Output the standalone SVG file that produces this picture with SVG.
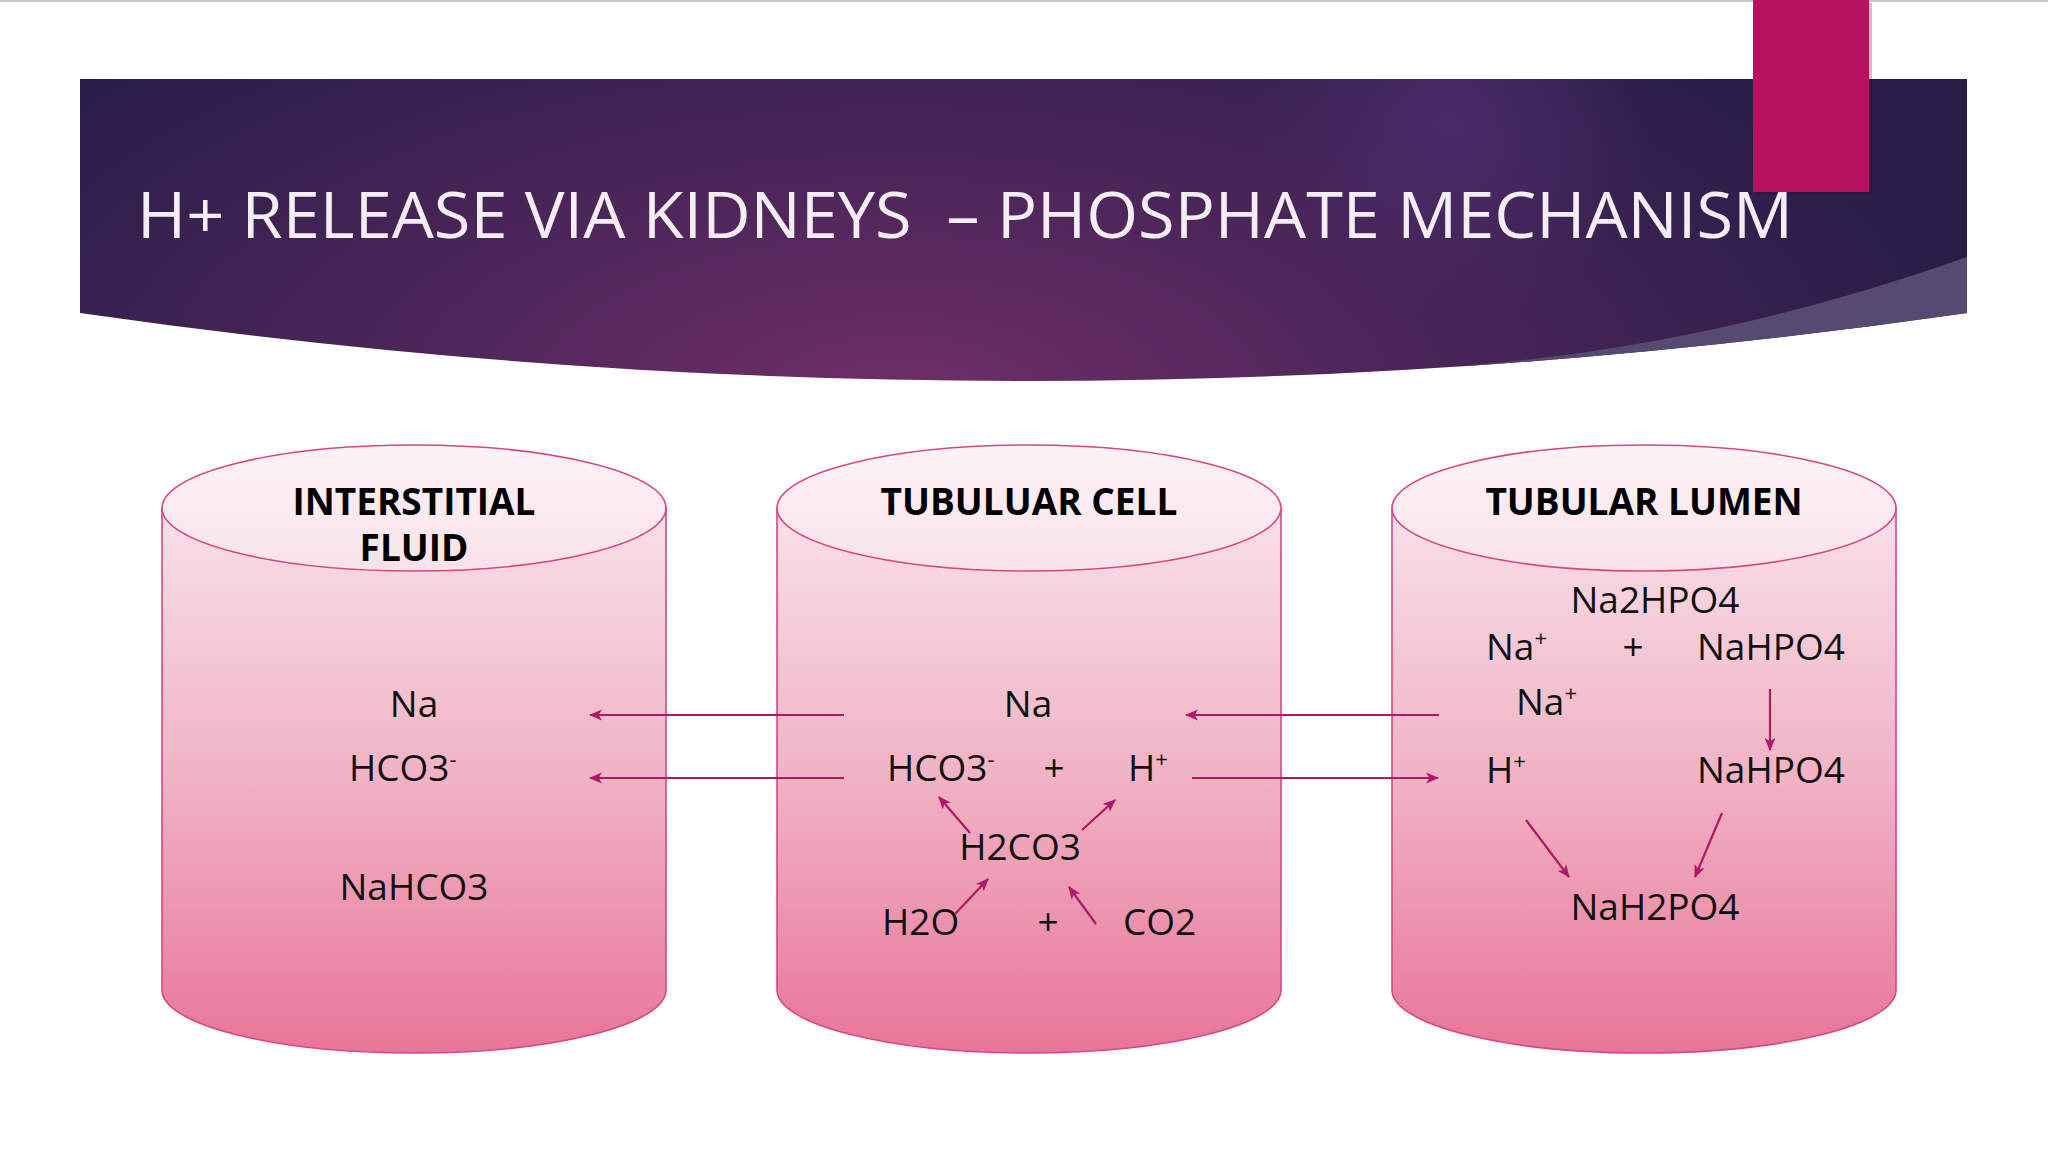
<svg xmlns="http://www.w3.org/2000/svg" width="2048" height="1152" viewBox="0 0 2048 1152">
<defs>
<radialGradient id="banner" cx="900" cy="400" r="1100" gradientUnits="userSpaceOnUse" gradientTransform="translate(900 400) scale(1 0.45) translate(-900 -400)">
<stop offset="0" stop-color="#6f2e68"/>
<stop offset="0.45" stop-color="#4d2659"/>
<stop offset="1" stop-color="#271d47"/>
</radialGradient>
<radialGradient id="glow" cx="1450" cy="120" r="200" gradientUnits="userSpaceOnUse">
<stop offset="0" stop-color="#4f2d70" stop-opacity="0.8"/>
<stop offset="1" stop-color="#4f2d70" stop-opacity="0"/>
</radialGradient>
<clipPath id="bclip"><path d="M80,79 L1967,79 L1967,313 Q1024,449 80,313 Z"/></clipPath>
<linearGradient id="body" x1="0" y1="508" x2="0" y2="1053" gradientUnits="userSpaceOnUse">
<stop offset="0" stop-color="#f9e0e9"/>
<stop offset="0.5" stop-color="#f0b2c4"/>
<stop offset="1" stop-color="#e87597"/>
</linearGradient>
<linearGradient id="top" x1="0" y1="445" x2="0" y2="571" gradientUnits="userSpaceOnUse">
<stop offset="0" stop-color="#fdf3f7"/>
<stop offset="1" stop-color="#f9e2ea"/>
</linearGradient>
<marker id="ah" viewBox="0 0 12 12" refX="11" refY="6" markerWidth="13" markerHeight="13" markerUnits="userSpaceOnUse" orient="auto">
<path d="M0,1 L12,6 L0,11 L3,6 Z" fill="#b0186c"/>
</marker>
<style>
.cyl{stroke:#d8458a;stroke-width:1.6}
.hdr{font-family:"Open Sans","Liberation Sans",sans-serif;font-weight:700;font-size:37px;fill:#000;text-anchor:middle}
.t{font-family:"Open Sans","Liberation Sans",sans-serif;font-size:37px;fill:#111}
.sup{font-size:22px}
.con line{stroke:#b0186c;stroke-width:2.2;marker-end:url(#ah)}
</style>
</defs>
<rect width="2048" height="1152" fill="#ffffff"/>
<line x1="0" y1="1" x2="2048" y2="1" stroke="#c8c8c8" stroke-width="2"/>

<g id="banner-shape">
<g clip-path="url(#bclip)">
<rect x="80" y="79" width="1887" height="320" fill="url(#banner)"/>
<rect x="1200" y="79" width="500" height="300" fill="url(#glow)"/>
<path d="M1463,366 Q1720,345 1967,257 L1967,420 L1463,420 Z" fill="#574a72"/>
</g>
</g>
<g id="accent">
<rect x="1756" y="3" width="116" height="192" fill="#1d1030" opacity="0.25"/>
<rect x="1753" y="0" width="116" height="192" fill="#b5135f"/>
</g>
<text id="title" x="137" y="238" xml:space="preserve" font-family="'Open Sans','Liberation Sans',sans-serif" font-size="64" fill="#f4eef4" textLength="1656" lengthAdjust="spacingAndGlyphs">H+ RELEASE VIA KIDNEYS  – PHOSPHATE MECHANISM</text>

<g id="interstitial-fluid">
<path class="cyl" d="M162,508 L162,990 A252,63 0 0 0 666,990 L666,508 Z" fill="url(#body)"/>
<ellipse class="cyl" cx="414" cy="508" rx="252" ry="63" fill="url(#top)"/>
<text class="hdr" x="414" y="515">INTERSTITIAL</text>
<text class="hdr" x="414" y="561">FLUID</text>
<text class="t" x="414" y="717" text-anchor="middle">Na</text>
<text class="t" x="349" y="781">HCO3<tspan class="sup" dy="-14">-</tspan></text>
<text class="t" x="414" y="900" text-anchor="middle">NaHCO3</text>
</g>

<g id="tubular-cell">
<path class="cyl" d="M777,508 L777,990 A252,63 0 0 0 1281,990 L1281,508 Z" fill="url(#body)"/>
<ellipse class="cyl" cx="1029" cy="508" rx="252" ry="63" fill="url(#top)"/>
<text class="hdr" x="1029" y="515">TUBULUAR CELL</text>
<text class="t" x="1028" y="717" text-anchor="middle">Na</text>
<text class="t" x="887" y="781">HCO3<tspan class="sup" dy="-14">-</tspan></text>
<text class="t" x="1054" y="781" text-anchor="middle">+</text>
<text class="t" x="1128" y="781">H<tspan class="sup" dy="-14">+</tspan></text>
<text class="t" x="1020" y="860" text-anchor="middle">H2CO3</text>
<text class="t" x="882" y="935">H2O</text>
<text class="t" x="1048" y="935" text-anchor="middle">+</text>
<text class="t" x="1123" y="935">CO2</text>
</g>

<g id="tubular-lumen">
<path class="cyl" d="M1392,508 L1392,990 A252,63 0 0 0 1896,990 L1896,508 Z" fill="url(#body)"/>
<ellipse class="cyl" cx="1644" cy="508" rx="252" ry="63" fill="url(#top)"/>
<text class="hdr" x="1644" y="515">TUBULAR LUMEN</text>
<text class="t" x="1655" y="613" text-anchor="middle">Na2HPO4</text>
<text class="t" x="1486" y="660">Na<tspan class="sup" dy="-14">+</tspan></text>
<text class="t" x="1633" y="660" text-anchor="middle">+</text>
<text class="t" x="1697" y="660">NaHPO4</text>
<text class="t" x="1516" y="715">Na<tspan class="sup" dy="-14">+</tspan></text>
<text class="t" x="1486" y="783">H<tspan class="sup" dy="-14">+</tspan></text>
<text class="t" x="1697" y="783">NaHPO4</text>
<text class="t" x="1655" y="920" text-anchor="middle">NaH2PO4</text>
</g>

<g id="connectors" class="con">
<line x1="844" y1="715" x2="590" y2="715"/>
<line x1="844" y1="778" x2="590" y2="778"/>
<line x1="1439" y1="715" x2="1186" y2="715"/>
<line x1="1192" y1="778" x2="1438" y2="778"/>
<line x1="970" y1="833" x2="939" y2="797"/>
<line x1="1082" y1="830" x2="1115" y2="800"/>
<line x1="955" y1="914" x2="988" y2="879"/>
<line x1="1096" y1="924" x2="1069" y2="887"/>
<line x1="1770" y1="689" x2="1770" y2="750"/>
<line x1="1526" y1="820" x2="1569" y2="877"/>
<line x1="1722" y1="813" x2="1695" y2="877"/>
</g>
</svg>
